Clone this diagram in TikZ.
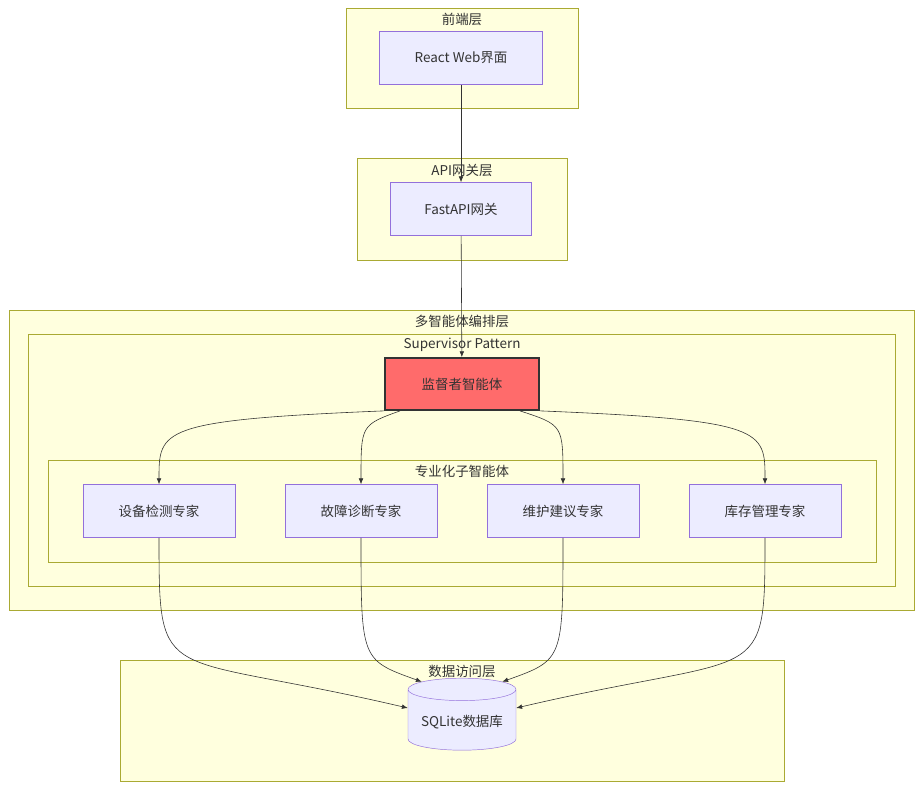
\documentclass[tikz,border=0pt]{standalone}
\usepackage{fontspec}
\setmainfont{Noto Sans CJK SC}
\usetikzlibrary{shapes.geometric,arrows.meta}
\definecolor{clfill}{HTML}{FFFFDE}
\definecolor{clline}{HTML}{AAAA33}
\definecolor{ndfill}{HTML}{ECECFF}
\definecolor{ndline}{HTML}{9370DB}
\definecolor{supfill}{HTML}{FF6B6B}
\definecolor{txt}{HTML}{333333}
\begin{document}
\begin{tikzpicture}[x=0.03cm,y=-0.03cm,
  cluster/.style={draw=clline,fill=clfill,line width=0.5pt},
  cltitle/.style={text=txt,font=\fontsize{11.5}{13}\selectfont},
  box/.style={draw=ndline,fill=ndfill,line width=0.5pt,text=txt,minimum width=152*0.03cm,minimum height=53*0.03cm,font=\fontsize{11.5}{13}\selectfont,inner sep=0pt},
  link/.style={draw=txt,line width=0.5pt,-{Latex[length=5pt,width=4pt]}}]

	% Rahmen
	\useasboundingbox[fill=white] (0,0) rectangle (924,790);

	% Cluster
	\draw [cluster] (346,8) rectangle (578,108);
	\node [cltitle] (tFront) at (462,19) {前端层};
	\draw [cluster] (357,158) rectangle (567,260);
	\node [cltitle] (tApi) at (462,170) {API网关层};
	\draw [cluster] (9,310) rectangle (914,610);
	\node [cltitle] (tMulti) at (462,321) {多智能体编排层};
	\draw [cluster] (28,334) rectangle (895,586);
	\node [cltitle] (tSup) at (462,345) {Supervisor Pattern};
	\draw [cluster] (48,460) rectangle (876,562);
	\node [cltitle] (tExp) at (462,471) {专业化子智能体};
	\draw [cluster] (120,660) rectangle (784,781);
	\node [cltitle] (tData) at (462,671) {数据访问层};

	% Knoten
	\node [box,minimum width=163*0.03cm] (react) at (461,58) {React Web界面};
	\node [box,minimum width=141*0.03cm] (gateway) at (461,209) {FastAPI网关};
	\node [box,minimum width=154*0.03cm,minimum height=52*0.03cm,fill=supfill,draw=txt,line width=1.5pt] (sup) at (462,384) {监督者智能体};
	\node [box] (detect) at (159,511) {设备检测专家};
	\node [box] (diag) at (361,511) {故障诊断专家};
	\node [box] (maint) at (563,511) {维护建议专家};
	\node [box] (stock) at (765,511) {库存管理专家};
	\node [cylinder,shape border rotate=90,aspect=0.25,draw=ndline,fill=ndfill,text=txt,
	  minimum width=108*0.03cm,minimum height=72*0.03cm,font=\fontsize{11.5}{13}\selectfont] (db) at (462,722) {SQLite数据库};

	% Kanten
	\draw [link] (react) -- (gateway);
	\draw [link] (gateway) -- (sup);
	\draw [link] (sup.south west) .. controls (159,420) and (159,430) .. (detect.north);
	\draw [link] (sup.south west -| 400,0) .. controls (361,425) .. (diag.north);
	\draw [link] (sup.south east -| 520,0) .. controls (563,425) .. (maint.north);
	\draw [link] (sup.south east) .. controls (765,420) and (765,430) .. (stock.north);
	\draw [link] (detect.south) .. controls (159,690) and (160,650) .. (db.west |- 0,708);
	\draw [link] (diag.south) .. controls (361,660) .. (db.north west);
	\draw [link] (maint.south) .. controls (563,660) .. (db.north east);
	\draw [link] (stock.south) .. controls (765,690) and (764,650) .. (db.east |- 0,708);
\end{tikzpicture}
\end{document}
